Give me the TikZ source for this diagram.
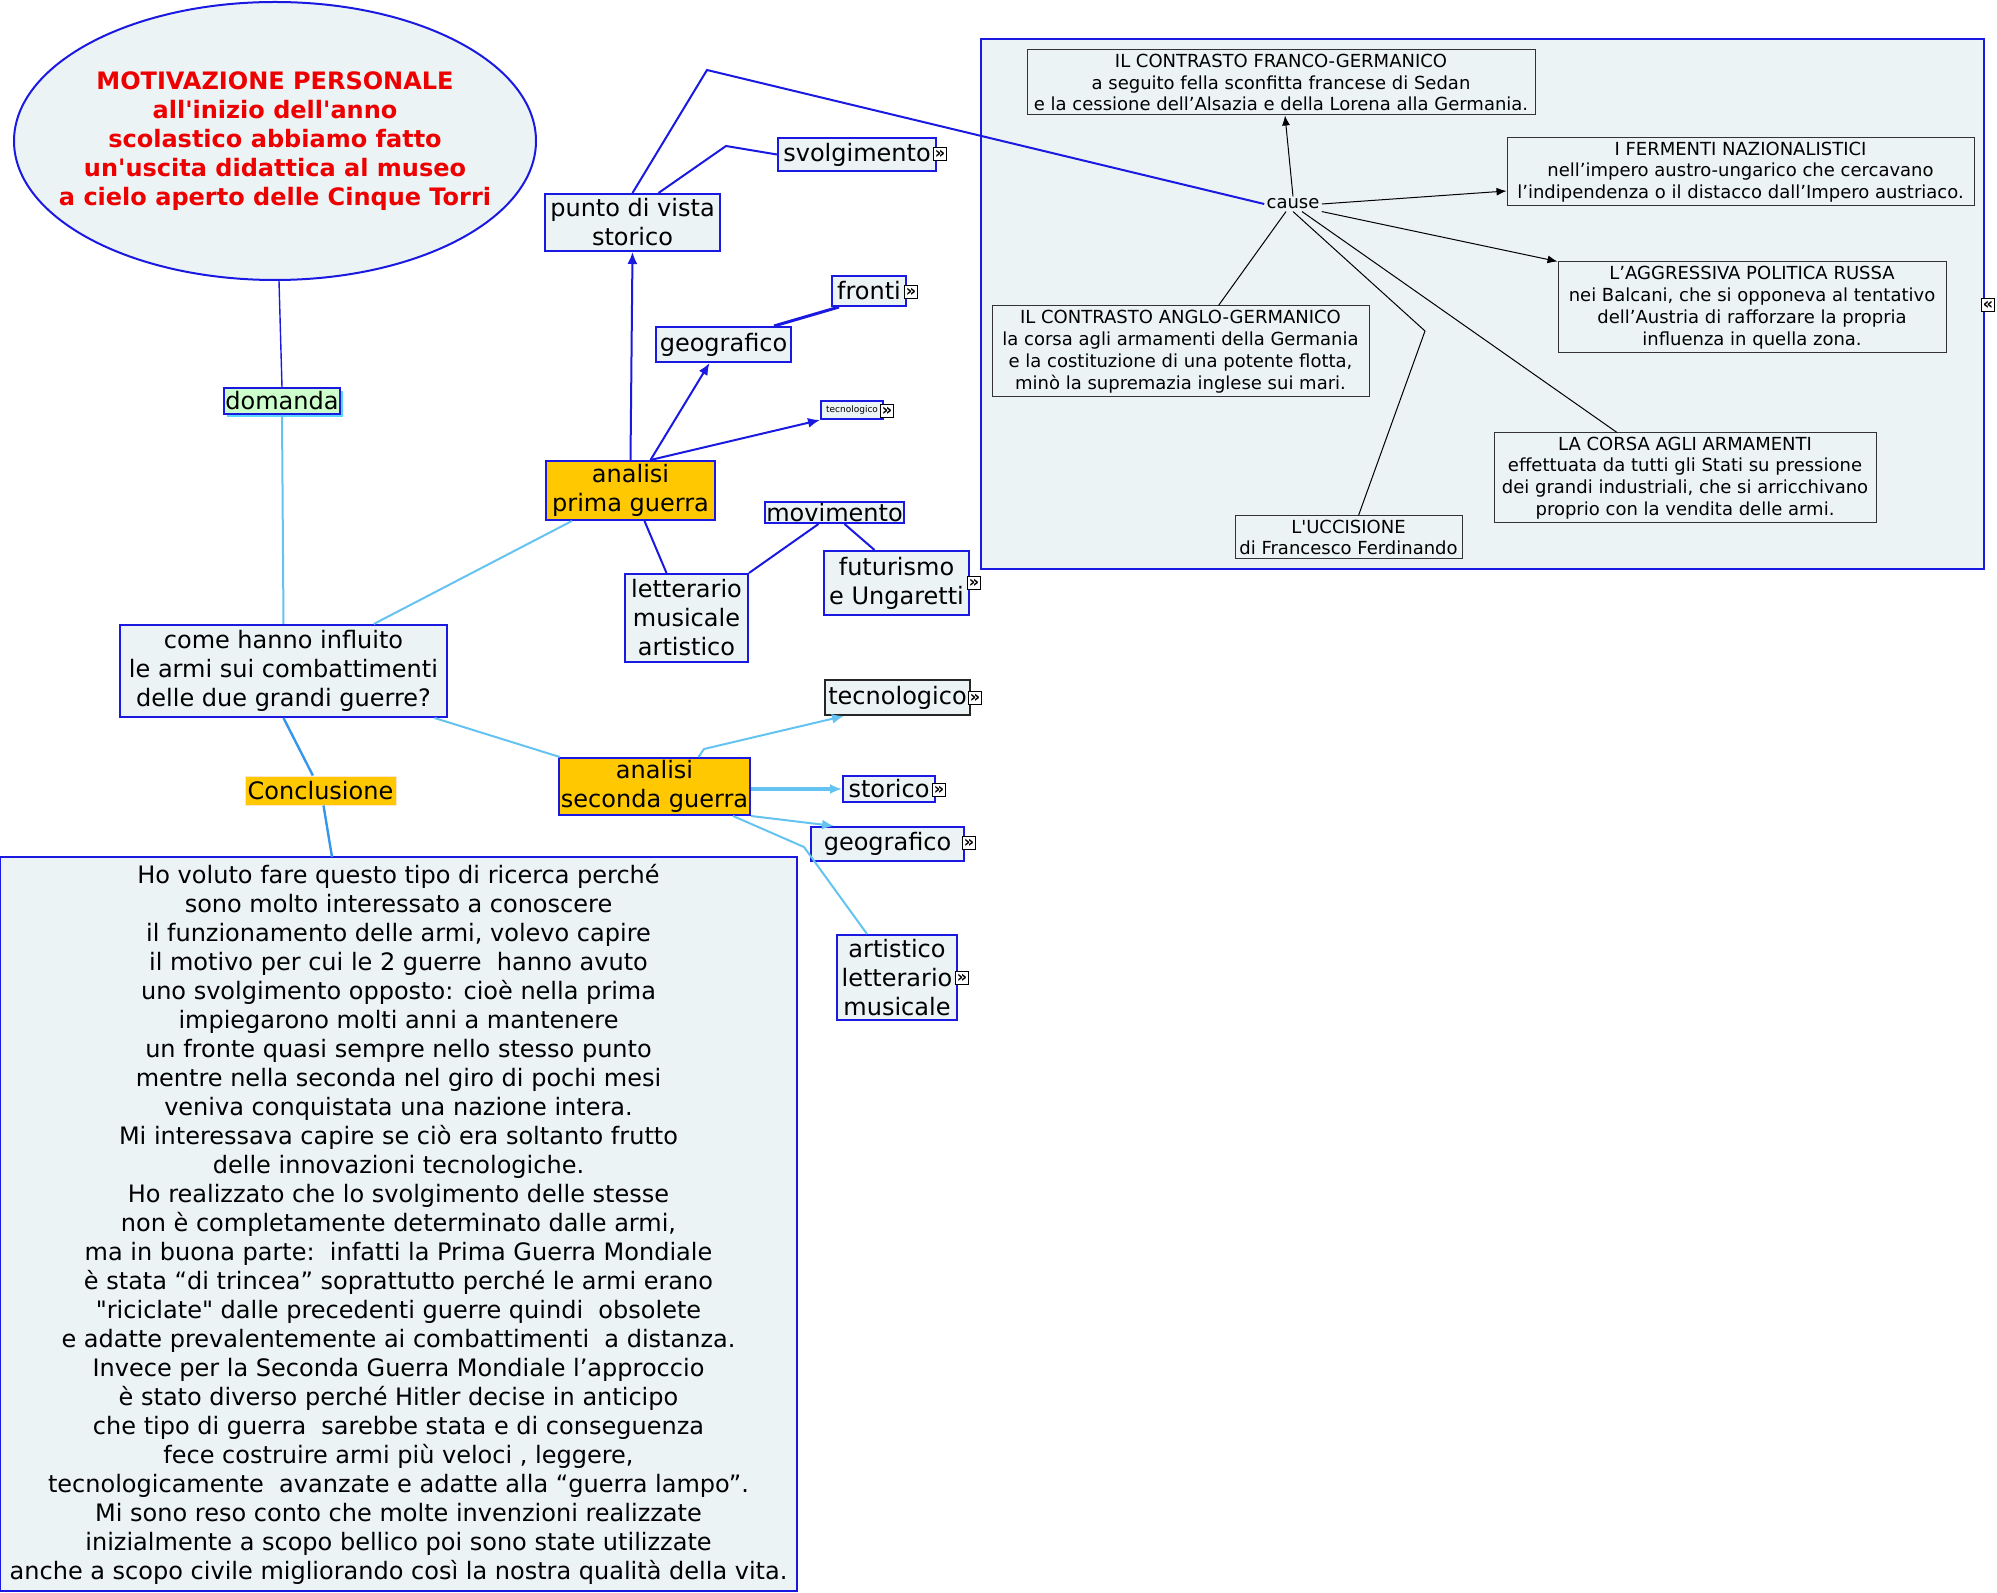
\documentclass[tikz,border=0pt]{standalone}
\usepackage{fontspec}
\setmainfont{DejaVu Sans}[Ligatures=TeXOff]
\usetikzlibrary{arrows.meta, positioning, shapes.geometric, shadows}
\definecolor{cmblue}{RGB}{25,25,225}
\definecolor{cmfill}{RGB}{236,243,245}
\definecolor{cmorange}{RGB}{255,200,0}
\definecolor{cmsky}{RGB}{100,195,240}
\definecolor{cmmid}{RGB}{55,150,235}
\definecolor{cmgreen}{RGB}{204,255,204}
\definecolor{cmcyan}{RGB}{90,215,255}
\tikzset{
  concept/.style={draw=cmblue, fill=cmfill, line width=1pt, align=center,
    inner sep=0pt, font=\fontsize{12}{14.5}\selectfont},
  causebox/.style={draw=black!80, fill=cmfill, line width=0.5pt, align=center,
    inner sep=0pt, font=\fontsize{9}{10.9}\selectfont},
  icon/.style={draw=black, fill=white, line width=0.4pt, inner sep=0pt,
    minimum size=6.5pt, font=\bfseries\fontsize{8}{8}\selectfont},
  mainlink/.style={cmblue, line width=1pt},
  skylink/.style={cmsky, line width=1pt},
  causelink/.style={black, line width=0.5pt, >={Latex[length=5pt,width=4pt]}},
}

\begin{document}
\begin{tikzpicture}[x=0.5pt, y=-0.5pt, >={Latex[length=6pt,width=5pt]}]
\useasboundingbox (0,0) rectangle (1997,1593);

% right panel with the causes of the first war
\node[draw=cmblue, fill=cmfill, line width=1pt, inner sep=0pt,
  minimum width=501.5pt, minimum height=265pt] (panel) at (1482.5,304) {};
\node[icon] (panel icon) at (1988,305) {«};
\node[font=\fontsize{9}{10.9}\selectfont, inner sep=1pt] (cause) at (1293,204) {cause};
\node[causebox, minimum width=254pt, minimum height=32.5pt] (franco) at (1281,82.5)
  {IL CONTRASTO FRANCO-GERMANICO\\ a seguito fella sconfitta francese di Sedan\\
   e la cessione dell’Alsazia e della Lorena alla Germania.};
\node[causebox, minimum width=233.5pt, minimum height=34pt] (fermenti) at (1740.5,172)
  {I FERMENTI NAZIONALISTICI\\ nell’impero austro-ungarico che cercavano\\
   l’indipendenza o il distacco dall’Impero austriaco.};
\node[causebox, minimum width=194pt, minimum height=45.5pt] (aggressiva) at (1752,307.5)
  {L’AGGRESSIVA POLITICA RUSSA\\ nei Balcani, che si opponeva al tentativo\\
   dell’Austria di rafforzare la propria\\ influenza in quella zona.};
\node[causebox, minimum width=191pt, minimum height=45pt] (corsa) at (1685,478)
  {LA CORSA AGLI ARMAMENTI\\ effettuata da tutti gli Stati su pressione\\
   dei grandi industriali, che si arricchivano\\ proprio con la vendita delle armi.};
\node[causebox, minimum width=113.5pt, minimum height=21.5pt] (uccisione) at (1348.5,537.5)
  {L'UCCISIONE\\ di Francesco Ferdinando};
\node[causebox, minimum width=188.5pt, minimum height=45.5pt] (anglo) at (1180.5,351.5)
  {IL CONTRASTO ANGLO-GERMANICO\\ la corsa agli armamenti della Germania\\
   e la costituzione di una potente flotta,\\ minò la supremazia inglese sui mari.};

% left column
\draw[cmblue, fill=cmfill, line width=1pt] (275,141) ellipse [x radius=261, y radius=139];
\node[align=center, inner sep=0pt, text=red!93!black,
  font=\bfseries\fontsize{12}{14.5}\selectfont] (motivazione) at (275,141)
  {MOTIVAZIONE PERSONALE\\ all'inizio dell'anno\\ scolastico abbiamo fatto\\
   un'uscita didattica al museo\\ a cielo aperto delle Cinque Torri};
\coordinate (motivazione bottom) at (279,281);
\node[concept, fill=cmgreen, minimum width=58pt, minimum height=13pt,
  drop shadow={shadow xshift=1.5pt, shadow yshift=-1.5pt, fill=cmcyan, opacity=1}]
  (domanda) at (282,401) {domanda};
\node[concept, minimum width=163.5pt, minimum height=46pt] (question) at (283.5,671)
  {come hanno influito\\ le armi sui combattimenti\\ delle due grandi guerre?};
\node[concept, fill=cmorange, draw=orange!20, line width=0.5pt,
  minimum width=75.5pt, minimum height=14.5pt] (conclusione) at (320.5,790.5) {Conclusione};
\node[concept, minimum width=398.5pt, minimum height=367pt] (riflessione) at (398.5,1224)
  {Ho voluto fare questo tipo di ricerca perché\\
   sono molto interessato a conoscere\\
   il funzionamento delle armi, volevo capire\\
   il motivo per cui le 2 guerre\ \ hanno avuto\\
   uno svolgimento opposto: cioè nella prima\\
   impiegarono molti anni a mantenere\\
   un fronte quasi sempre nello stesso punto\\
   mentre nella seconda nel giro di pochi mesi\\
   veniva conquistata una nazione intera.\\
   Mi interessava capire se ciò era soltanto frutto\\
   delle innovazioni tecnologiche.\\
   Ho realizzato che lo svolgimento delle stesse\\
   non è completamente determinato dalle armi,\\
   ma in buona parte:\ \ infatti la Prima Guerra Mondiale\\
   è stata “di trincea” soprattutto perché le armi erano\\
   "riciclate" dalle precedenti guerre quindi\ \ obsolete\\
   e adatte prevalentemente ai combattimenti\ \ a distanza.\\
   Invece per la Seconda Guerra Mondiale l’approccio\\
   è stato diverso perché Hitler decise in anticipo\\
   che tipo di guerra\ \ sarebbe stata e di conseguenza\\
   fece costruire armi più veloci , leggere,\\
   tecnologicamente\ \ avanzate e adatte alla “guerra lampo”.\\
   Mi sono reso conto che molte invenzioni realizzate\\
   inizialmente a scopo bellico poi sono state utilizzate\\
   anche a scopo civile migliorando così la nostra qualità della vita.};
\coordinate (riflessione top) at (332,857);

% first war
\node[concept, fill=cmorange, minimum width=84.5pt, minimum height=29.5pt] (analisi1) at (630.5,490.5)
  {analisi\\ prima guerra};
\node[concept, minimum width=87.5pt, minimum height=28.5pt] (punto) at (632.5,222.5)
  {punto di vista\\ storico};
\node[concept, minimum width=79pt, minimum height=16.5pt] (svolgimento) at (857,154.5) {svolgimento};
\node[icon] (svolgimento icon) at (940,154) {»};
\node[concept, minimum width=67.5pt, minimum height=17.5pt] (geografico1) at (723.5,344.5) {geografico};
\node[concept, minimum width=37pt, minimum height=15pt] (fronti) at (869,291) {fronti};
\node[icon] (fronti icon) at (911,292) {»};
\node[concept, minimum width=31pt, minimum height=9pt, font=\fontsize{4.5}{5}\selectfont]
  (tecno1) at (852,410) {tecnologico};
\node[icon] (tecno1 icon) at (887,411) {»};
\node[concept, minimum width=61.5pt, minimum height=44pt] (letterario1) at (686.5,618)
  {letterario\\ musicale\\ artistico};
\node[concept, minimum width=69.5pt, minimum height=10.5pt] (movimento) at (834.5,512.5) {movimento};
\node[concept, minimum width=72.5pt, minimum height=32pt] (futurismo) at (896.5,583)
  {futurismo\\ e Ungaretti};
\node[icon] (futurismo icon) at (974,583) {»};

% second war
\node[concept, fill=cmorange, minimum width=95.5pt, minimum height=28.5pt] (analisi2) at (654.5,786.5)
  {analisi\\ seconda guerra};
\node[concept, draw=black!85, minimum width=72.5pt, minimum height=17.5pt] (tecno2) at (897.5,697.5) {tecnologico};
\node[icon] (tecno2 icon) at (975,698) {»};
\node[concept, minimum width=46pt, minimum height=13pt] (storico) at (889,789) {storico};
\node[icon] (storico icon) at (939,790) {»};
\node[concept, minimum width=76.5pt, minimum height=17pt] (geografico2) at (887.5,844) {geografico};
\node[icon] (geografico2 icon) at (969,843) {»};
\node[concept, minimum width=60pt, minimum height=42.5pt] (artistico2) at (897,977.5)
  {artistico\\ letterario\\ musicale};
\node[icon] (artistico2 icon) at (962,978) {»};

% connectors, left column
\draw[mainlink, line width=0.7pt] (motivazione bottom) -- (domanda.north);
\draw[skylink] (domanda.south) -- (question.north);
\draw[skylink] (question) -- (analisi1);
\draw[skylink] (question) -- (analisi2);
\draw[cmmid, line width=1.2pt] (question.south) -- (conclusione);
\draw[cmmid, line width=1.2pt] ([xshift=1.5pt]conclusione.south) -- (riflessione top);

% connectors, first war
\coordinate (kink1) at (707,70);
\coordinate (kink2) at (726,146);
\draw[mainlink, ->] (analisi1.north) -- (punto.south);
\draw[mainlink] (punto.north) -- (kink1) -- (cause.west);
\draw[mainlink] ([xshift=13pt]punto.north) -- (kink2) -- (svolgimento.west);
\draw[mainlink, ->] ([xshift=10pt]analisi1.north) -- ([xshift=-7pt]geografico1.south);
\draw[mainlink, ->] ([xshift=10pt]analisi1.north) -- (tecno1.south west);
\draw[mainlink, line width=1.5pt] ([xshift=-9pt]geografico1.north east) -- ([xshift=4pt]fronti.south west);
\draw[mainlink] ([xshift=7pt]analisi1.south) -- ([xshift=-10pt]letterario1.north);
\draw[mainlink] (letterario1.north east) -- ([xshift=-8pt]movimento.south);
\draw[mainlink] ([xshift=5pt]movimento.south) -- ([xshift=-11pt]futurismo.north);

% connectors, second war
\coordinate (kink3) at (704,749);
\coordinate (kink4) at (804,847);
\draw[skylink, ->] ([xshift=22pt]analisi2.north) -- (kink3) -- ([xshift=10pt]tecno2.south west);
\draw[skylink, line width=2pt, ->] (analisi2.east |- storico.west) -- (storico.west);
\draw[skylink, ->] (analisi2.south east) -- ([xshift=12pt]geografico2.north west);
\draw[skylink] ([xshift=-9pt]analisi2.south east) -- (kink4) -- ([xshift=-15pt]artistico2.north);

% connectors, causes
\coordinate (kink5) at (1425,331);
\draw[causelink, ->] (cause.north) -- ([xshift=2pt]franco.south);
\draw[causelink, ->] (cause.east) -- ([yshift=-9.5pt]fermenti.west);
\draw[causelink, ->] (cause.south east) -- (aggressiva.north west);
\draw[causelink] ([xshift=-3.5pt]cause.south) -- ([xshift=19pt]anglo.north);
\draw[causelink] (cause.south) -- (kink5) -- ([xshift=5pt]uccisione.north);
\draw[causelink] ([xshift=4.5pt]cause.south) -- ([xshift=-34pt]corsa.north);
\end{tikzpicture}
\end{document}
